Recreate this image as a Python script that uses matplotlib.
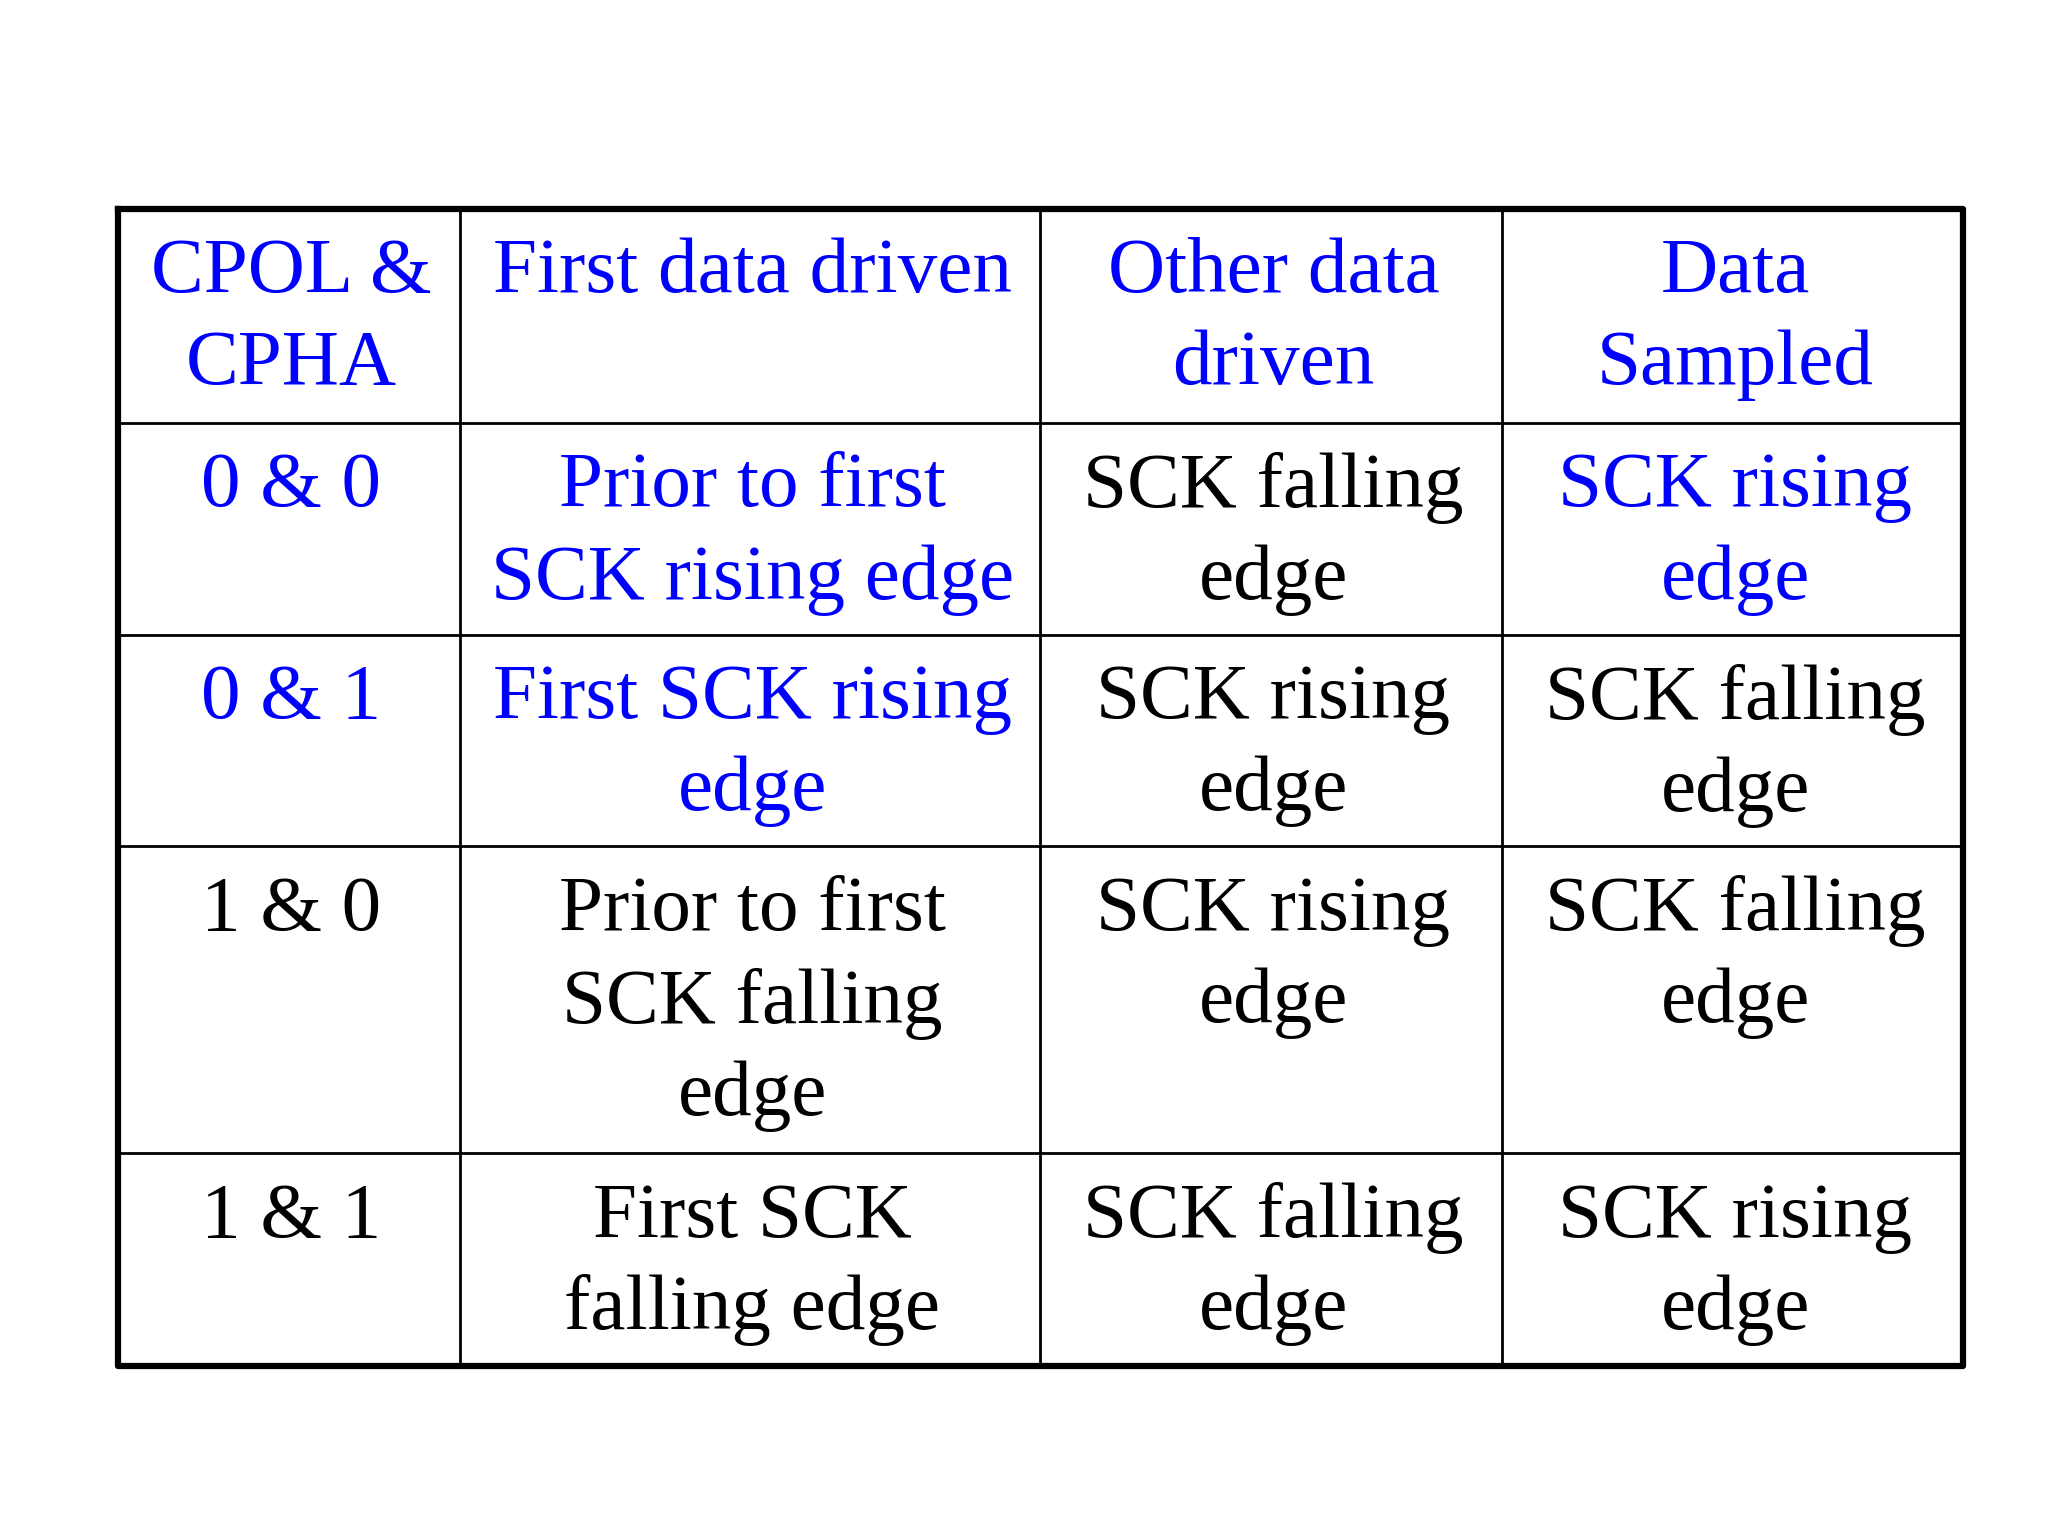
import matplotlib
matplotlib.use("Agg")
import matplotlib.pyplot as plt

# Table content
headers = ["CPOL &\nCPHA", "First data driven", "Other data\ndriven", "Data\nSampled"]
modes = ["0 & 0", "0 & 1", "1 & 0", "1 & 1"]
first_driven = ["Prior to first\nSCK rising edge", "First SCK rising\nedge",
                "Prior to first\nSCK falling\nedge", "First SCK\nfalling edge"]
other_driven = ["SCK falling\nedge", "SCK rising\nedge", "SCK rising\nedge", "SCK falling\nedge"]
sampled = ["SCK rising\nedge", "SCK falling\nedge", "SCK falling\nedge", "SCK rising\nedge"]
# which cells are blue (row, col)
blue_rows = {0: [0, 1, 2, 3], 1: [0, 1, 3], 2: [0, 1], 3: [], 4: []}

BLUE = "#0000FF"
col_edges = [90, 352, 796, 1150, 1503]
row_edges = [160, 324, 486, 648, 883, 1046]

fig = plt.figure(figsize=(20.48, 15.36), dpi=100)
ax = fig.add_axes([0, 0, 1, 1])
ax.set_xlim(0, 1568)
ax.set_ylim(1176, 0)
ax.axis("off")

rows = [headers] + [[m, f, o, s] for m, f, o, s in zip(modes, first_driven, other_driven, sampled)]

for r, row in enumerate(rows):
    for c, txt in enumerate(row):
        x = (col_edges[c] + col_edges[c + 1]) / 2 + 2
        y = row_edges[r] + 22
        color = BLUE if c in blue_rows[r] else "black"
        ax.text(x, y, txt, ha="center", va="top", fontsize=57, color=color,
                family="Liberation Serif", linespacing=1.38)

# grid lines
for x in col_edges[1:-1]:
    ax.plot([x, x], [row_edges[0], row_edges[-1]], color="black", lw=2)
for y in row_edges[1:-1]:
    ax.plot([col_edges[0], col_edges[-1]], [y, y], color="black", lw=2)
ax.plot([col_edges[0], col_edges[-1], col_edges[-1], col_edges[0], col_edges[0]],
        [row_edges[0], row_edges[0], row_edges[-1], row_edges[-1], row_edges[0]],
        color="black", lw=4.5)

fig.savefig("out.png", dpi=100)
